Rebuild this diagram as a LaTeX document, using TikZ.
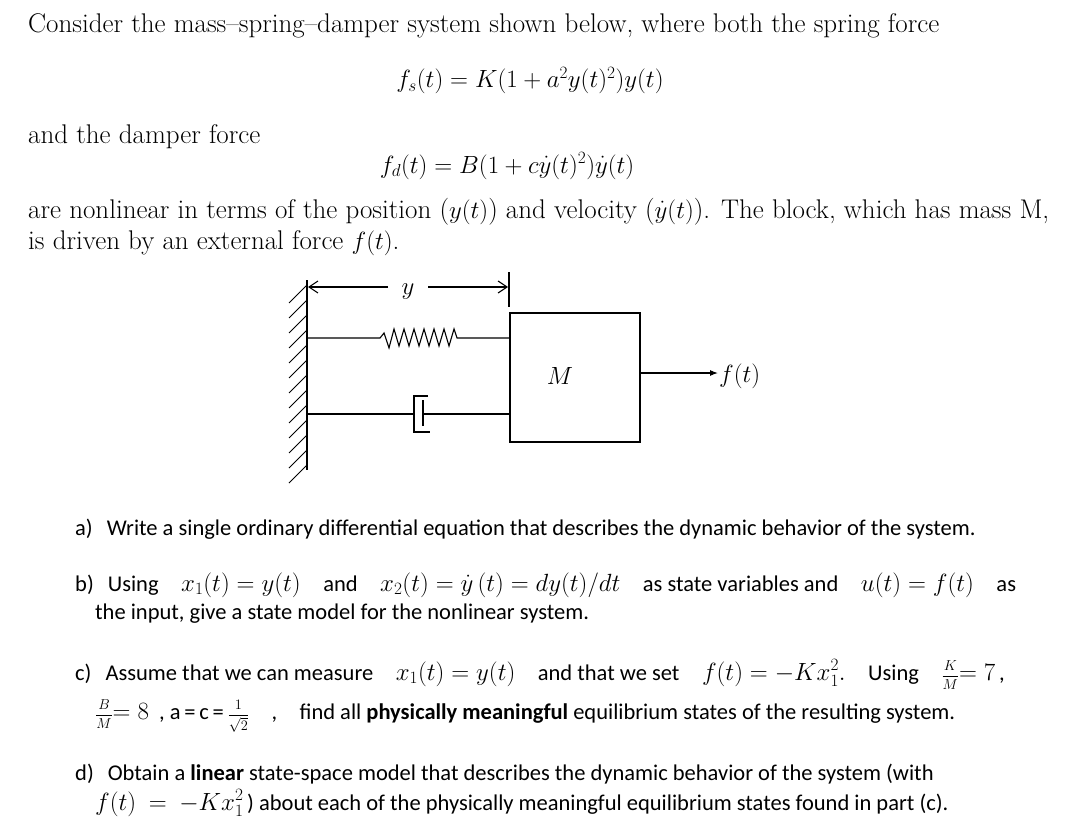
\documentclass[tikz,border=0pt]{standalone}
\usepackage{amsmath}
\usepackage{fontspec}
\usetikzlibrary{arrows.meta}
\newfontfamily\calibri{Carlito}
\newcommand{\bm}[1]{{\fontsize{25}{27}\selectfont$#1$}}
\newcommand{\fr}[2]{{\fontsize{15}{17}\selectfont$\dfrac{#1}{#2}$}}
\begin{document}
\begin{tikzpicture}[x=1pt,y=-1pt,
  top/.style={anchor=base west,inner sep=0pt,font=\fontsize{27}{32}\selectfont},
  eq/.style={anchor=base,inner sep=0pt,font=\fontsize{27}{32}\selectfont},
  low/.style={anchor=base west,inner sep=0pt,font=\calibri\fontsize{22.5}{27}\selectfont},
  ln/.style={line width=1.1pt}]
\useasboundingbox (0,0) rectangle (1079,840);
\node[top] (t1) at (28,33) {Consider the mass--spring--damper system shown below, where both the spring force};
\node[eq] (e1) at (530,88) {$f_s(t) = K(1+a^2y(t)^2)y(t)$};
\node[top] (t2) at (28,143) {and the damper force};
\node[eq] (e2) at (507,173) {$f_d(t) = B(1+c\dot y(t)^2)\dot y(t)$};
\node[top] (t3) at (28,218) {are nonlinear in terms of the position ($y(t)$) and velocity ($\dot y(t)$). The block, which has mass M,};
\node[top] (t4) at (28,249) {is driven by an external force $f(t)$.};
% diagram
\draw[ln] (307,280) -- (307,470);
\foreach \yy in {285,300,...,465} \draw[line width=0.9pt] (307,\yy) -- (289,\yy+18);
\draw[ln,-{Straight Barb[length=9pt,width=12pt]}] (388,287) -- (308,287);
\draw[ln,-{Straight Barb[length=9pt,width=12pt]}] (428,287) -- (508,287);
\node[inner sep=0pt,font=\fontsize{28}{28}\selectfont] (ylab) at (408,292) {$y$};
\draw[ln] (509,272) -- (509,307);
\node[draw,ln,minimum width=130pt,minimum height=129pt,inner sep=0pt] (M) at (575,377.5) {};
\node[font=\sffamily\fontsize{28}{28}\selectfont] (Ml) at (560,376) {$M$};
\draw[ln] (307,338) -- (380,338) -- (384,333) -- (389,348) -- (394,329) -- (399,346) -- (404,329) -- (409,346) -- (414,329) -- (419,346) -- (424,329) -- (429,346) -- (434,329) -- (439,346) -- (444,329) -- (449,346) -- (454,329) -- (457,338) -- (510,338);
\draw[ln] (307,414) -- (413,414);
\draw[ln] (428,396) -- (414,396) -- (414,432) -- (430,432);
\draw[line width=1.6pt] (423,400) -- (423,426);
\draw[ln] (423,414) -- (510,414);
\draw[ln,-Latex] (M.east |- 0,373) -- (718,373);
\node[anchor=west,inner sep=0pt,font=\fontsize{26}{26}\selectfont] (fl) at (719,376) {$f(t)$};
% questions
\node[low] (qa) at (75,535) {a)\hspace{14pt}Write a single ordinary differential equation that describes the dynamic behavior of the system.};
\node[low] (qb) at (75,591) {b)\hspace{14pt}Using\quad\bm{x_1(t)=y(t)}\quad and\quad\bm{x_2(t)=\dot y\,(t)=dy(t)/dt}\quad as state variables and\quad\bm{u(t)=f(t)}\quad as};
\node[low] (qb2) at (95,619) {the input, give a state model for the nonlinear system.};
\node[low] (qc) at (75,680) {c)\hspace{14pt}Assume that we can measure\quad\bm{x_1(t)=y(t)}\quad and that we set\quad\bm{f(t)=-Kx_1^2.}\quad Using\quad\fr{K}{M}\bm{=7}\,,};
\node[low] (qc2) at (95,719) {\fr{B}{M}\bm{=8}\ \ ,\ a\,=\,c\,=\,\fr{1}{\sqrt2}\quad,\quad find all \textbf{physically meaningful} equilibrium states of the resulting system.};
\node[low] (qd) at (75,780) {d)\hspace{14pt}Obtain a \textbf{linear} state-space model that describes the dynamic behavior of the system (with};
\node[low] (qd2) at (95,810) {\bm{f(t)\ =\ -Kx_1^2}\,) about each of the physically meaningful equilibrium states found in part (c).};
\end{tikzpicture}
\end{document}
